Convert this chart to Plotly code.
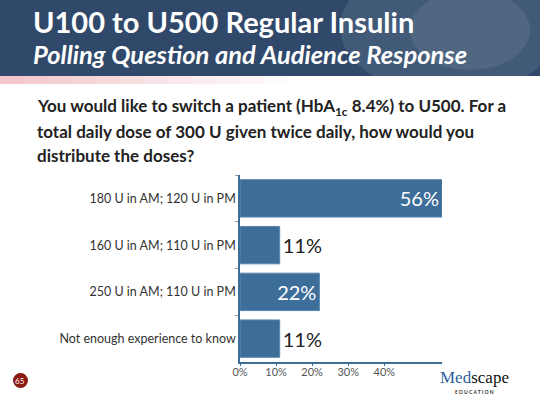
import plotly.graph_objects as go

categories = ["180 U in AM; 120 U in PM", "160 U in AM; 110 U in PM",
              "250 U in AM; 110 U in PM", "Not enough experience to know"]
values = [56, 11, 22, 11]
labels = ["56%", "11%", "22%", "11%"]
tick_vals = [0, 10, 20, 30, 40]
tick_text = ["0%", "10%", "20%", "30%", "40%"]

BAR = "#3d6e99"
positions = ["inside", "outside", "inside", "outside"]
txtcolors = ["white", "#222222", "white", "#222222"]

W, H = 540, 405
L, R, T, B = 240, 98, 175, 43
PW, PH = W - L - R, H - T - B

def xp(x):
    return (x - L) / PW

def yp(y):
    return 1 - (y - T) / PH

fig = go.Figure(go.Bar(
    x=values, y=categories, orientation="h",
    marker=dict(color=BAR, line=dict(color="#5a86ad", width=1)),
    text=labels, textposition=positions, insidetextanchor="end",
    textfont=dict(size=20, color=txtcolors, family="Lato, sans-serif"),
    cliponaxis=False, width=0.8,
))

def px(x0, y0, x1, y1, **kw):
    return dict(type="rect", xref="paper", yref="paper",
                x0=xp(x0), x1=xp(x1), y0=yp(y1), y1=yp(y0),
                line=dict(width=0), layer="below", **kw)

shapes = []
shapes.append(px(0, 0, 540, 76, fillcolor="#30496a"))
shapes.append(dict(type="circle", xref="paper", yref="paper",
                   x0=xp(340), x1=xp(560), y0=yp(95), y1=yp(-40),
                   fillcolor="#6a8096", opacity=0.3, line=dict(width=0), layer="below"))
shapes.append(dict(type="circle", xref="paper", yref="paper",
                   x0=xp(410), x1=xp(530), y0=yp(70), y1=yp(-10),
                   fillcolor="#8a9aab", opacity=0.2, line=dict(width=0), layer="below"))
shapes.append(px(0, 76, 540, 95, fillcolor="white"))
steps = 12
for i in range(steps):
    x0 = i * 24
    op = 1 - i / steps
    shapes.append(px(x0, 76, x0 + 24, 84, fillcolor="#f2c6cc", opacity=op))
shapes.append(dict(type="circle", xref="paper", yref="paper",
                   x0=xp(13), x1=xp(28), y0=yp(388), y1=yp(373),
                   fillcolor="#8b1a12", line=dict(width=0)))

font = "Lato, 'Open Sans', sans-serif"
def ann(text, x, y, size, color, xanchor="left", family=font):
    return dict(text=text, x=xp(x), y=yp(y), xref="paper", yref="paper",
                xanchor=xanchor, yanchor="middle", showarrow=False,
                font=dict(size=size, color=color, family=family))

annotations = [
    ann("<b>U100 to U500 Regular Insulin</b>", 31, 21, 29, "white"),
    ann("<b><i>Polling Question and Audience Response</i></b>", 31, 54, 25.5, "white"),
    ann("<b>You would like to switch a patient (HbA<sub>1c</sub> 8.4%) to U500. For a</b>",
        35, 107, 17, "#222222"),
    ann("<b>total daily dose of 300 U given twice daily, how would you</b>",
        35, 131, 17, "#222222"),
    ann("<b>distribute the doses?</b>", 35, 155, 17, "#222222"),
    ann("65", 20.5, 380.5, 8, "white", xanchor="center"),
    ann("<span style='color:#2f5f9e'>Med</span>scape", 511, 377, 17, "#111111",
        xanchor="right", family="'Liberation Serif', serif"),
    ann("<b>E D U C A T I O N</b>", 496, 392, 5, "#333333", xanchor="right"),
]

fig.update_layout(
    width=W, height=H, margin=dict(l=L, r=R, t=T, b=B),
    paper_bgcolor="white", plot_bgcolor="white",
    shapes=shapes, annotations=annotations, showlegend=False,
    bargap=0.2,
    xaxis=dict(range=[0, 56], tickvals=tick_vals, ticktext=tick_text,
               showgrid=False, zeroline=False, showline=True, linecolor=BAR, linewidth=1.5,
               ticks="outside", ticklen=2, tickcolor=BAR, ticklabelstandoff=-3,
               tickfont=dict(size=11, color="#555555", family=font), fixedrange=True),
    yaxis=dict(autorange="reversed", showgrid=False, showline=True, linecolor=BAR,
               linewidth=1.5, ticks="outside", ticklen=3, tickcolor="#999999",
               tickson="boundaries",
               tickfont=dict(size=12.5, color="#333333", family=font), fixedrange=True),
)

fig.write_html("out.html")
